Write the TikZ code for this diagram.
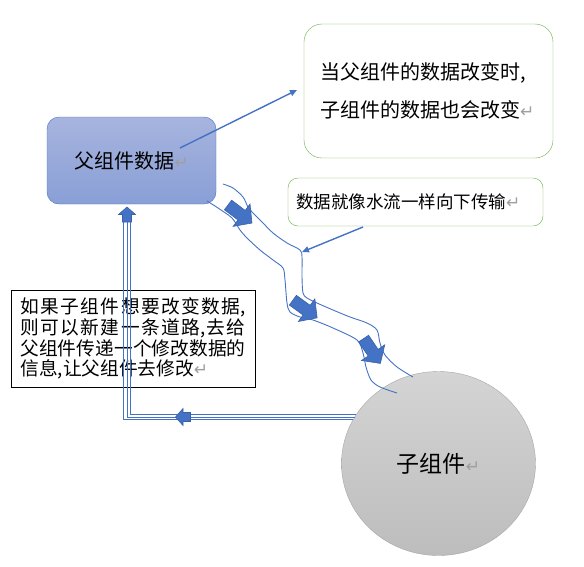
\documentclass[tikz,border=0pt]{standalone}
\usepackage{fontspec}
\setmainfont{Noto Sans CJK SC}
\newfontfamily\symfont{DejaVu Sans}
\usepackage{xcolor}
\usetikzlibrary{arrows, arrows.meta}
\usetikzlibrary{calc}
\usetikzlibrary{shapes.geometric}
\XeTeXlinebreaklocale "zh"
\XeTeXlinebreakskip=0pt plus 2pt
\definecolor{wordblue}{HTML}{4472C4}
\definecolor{wordgreen}{HTML}{70AD47}
\newcommand{\pmark}{{\symfont\fontsize{17}{17}\selectfont\textcolor{gray!75}{↵}}}

\begin{document}
\begin{tikzpicture}[x=1pt, y=-1pt,
    bank/.style={draw=wordblue, line width=0.9pt},
    ret/.style={draw=wordblue, line width=0.9pt},
    blockfill/.style={draw=wordblue!85!black, line width=0.6pt, fill=wordblue},
    flowarrow/.pic={\path[blockfill] (-15,-6) -- (2,-6) -- (2,-14) -- (15,0) -- (2,14)
      -- (2,6) -- (-15,6) -- cycle;},
    retarrow/.pic={\path[blockfill] (-7.5,-4.5) -- (0,-4.5) -- (0,-8.5) -- (7.5,0) -- (0,8.5)
      -- (0,4.5) -- (-7.5,4.5) -- cycle;},
    notebox/.style={draw=wordgreen, fill=white, rounded corners=18pt, align=left}]
  \useasboundingbox (0,0) rectangle (584,566);

  \node[draw=wordblue, rounded corners=12pt, top color={rgb,255:red,167;green,180;blue,222},
    bottom color={rgb,255:red,137;green,159;blue,214}, minimum width=169pt, minimum height=87pt,
    font=\fontsize{20}{24}\selectfont] (parent) at (131.5,160.5) {父组件数据\pmark};

  \node[notebox, minimum width=249pt, minimum height=134pt, text width=217pt, inner xsep=16pt,
    font=\fontsize{20}{38}\selectfont] (changebox) at (428.5,91) {当父组件的数据改变时,\\子组件的数据也会改变\pmark};
  \node[notebox, rounded corners=10pt, minimum height=48pt, text width=239pt, inner xsep=8pt,
    font=\fontsize{17.5}{20}\selectfont] (flowbox) at (415.5,202) {数据就像水流一样向下传输\pmark};

  \node[draw, fill=white, minimum height=97pt, text width=225pt, inner xsep=9.5pt, align=justify,
    font=\fontsize{18.7}{20.7}\selectfont] (askbox) at (133,338.5) {如果子组件想要改变数据,则可以新建一条道路,去给父组件传递一个修改数据的信息,让父组件去修改\pmark};

  \node[ellipse, draw={rgb,255:red,166;green,166;blue,166}, top color={rgb,255:red,212;green,212;blue,212},
    bottom color={rgb,255:red,189;green,189;blue,189}, minimum width=194pt, minimum height=184pt,
    font=\fontsize{23}{26}\selectfont] (child) at (438.5,463.5) {子组件\pmark};

  \draw[bank] plot[smooth, tension=0.5] coordinates {(207,201) (218,208) (232,218) (240,230) (247,238)
    (260,250) (273,260) (283,268) (285,280) (287,303) (290,312) (300,317) (313,320) (333,328)
    (357,340) (363,353) (366,367) (371,380) (380,387) (397,393)};
  \draw[bank] plot[smooth, tension=0.5] coordinates {(223,184) (233,188) (243,197) (248,207) (253,213)
    (263,223) (273,233) (287,243) (300,250) (302,257) (302,277) (303,293) (307,298) (317,303)
    (333,310) (350,317) (367,323) (377,330) (380,343) (385,355) (397,367) (413,377)};

  \foreach \x/\y/\a [count=\i] in {240/214/-37, 305/309/-36, 372/351/-56}
    \pic[rotate=\a] (flow\i) at (\x,\y) {flowarrow};

  \coordinate (uptail) at (127,222);
  \draw[ret] (child.153) -| ([xshift=-4pt]uptail);
  \draw[ret] (child.151) -| (uptail);
  \draw[ret] (child.149) -| ([xshift=3.5pt]uptail);
  \pic[rotate=90] (uparrow) at (127,214.5) {retarrow};
  \pic[rotate=180] (leftarrow) at (183,417) {retarrow};

  \coordinate (p1) at (180,148);
  \coordinate (p2) at (297,90);
  \coordinate (f1) at (363,227);
  \coordinate (f2) at (302,252);
  \draw[wordblue, line width=1.4pt, -{Triangle[length=7pt, width=6pt]}] (p1) -- (p2);
  \draw[wordblue, line width=1.4pt, -{Triangle[length=7pt, width=6pt]}] (f1) -- (f2);
\end{tikzpicture}
\end{document}
